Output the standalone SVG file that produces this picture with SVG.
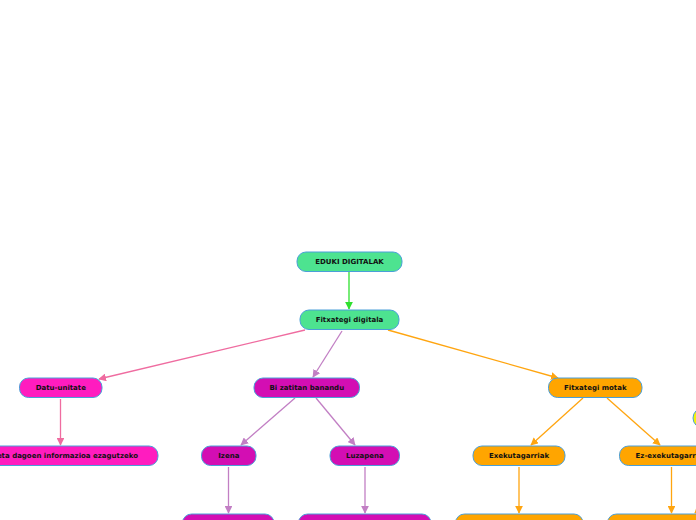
<svg xmlns="http://www.w3.org/2000/svg" width="696" height="520" viewBox="0 0 696 520">
<style>
.n{stroke:#4a9fd8;stroke-width:1}
.t{font-family:"DejaVu Sans",Verdana,sans-serif;font-weight:bold;font-size:7px;fill:#111;text-anchor:middle;dominant-baseline:central}
.g{fill:#4de390}
.p{fill:#ff1cbf}
.m{fill:#d30eb3}
.o{fill:#ffa500}
.y{fill:#f2f20a}
.c{fill:none;stroke-width:1.3}
</style>
<defs>
<marker id="ag" viewBox="0 0 10 10" refX="9" refY="5" markerWidth="6" markerHeight="6" orient="auto"><path d="M0,0L10,5L0,10z" fill="#2fe02f"/></marker>
<marker id="ap" viewBox="0 0 10 10" refX="9" refY="5" markerWidth="6" markerHeight="6" orient="auto"><path d="M0,0L10,5L0,10z" fill="#ef6ca0"/></marker>
<marker id="am" viewBox="0 0 10 10" refX="9" refY="5" markerWidth="6" markerHeight="6" orient="auto"><path d="M0,0L10,5L0,10z" fill="#c27fc4"/></marker>
<marker id="ao" viewBox="0 0 10 10" refX="9" refY="5" markerWidth="6" markerHeight="6" orient="auto"><path d="M0,0L10,5L0,10z" fill="#ffa510"/></marker>
</defs>
<g id="connectors">
<line class="c" x1="349" y1="272" x2="349" y2="309" stroke="#2fe02f" marker-end="url(#ag)"/>
<line class="c" x1="305" y1="330" x2="99" y2="379" stroke="#ef6ca0" marker-end="url(#ap)"/>
<line class="c" x1="342" y1="331" x2="313" y2="377" stroke="#c27fc4" marker-end="url(#am)"/>
<line class="c" x1="388" y1="330" x2="558" y2="378" stroke="#ffa510" marker-end="url(#ao)"/>
<line class="c" x1="60.5" y1="399" x2="60.5" y2="445" stroke="#ef6ca0" marker-end="url(#ap)"/>
<line class="c" x1="295" y1="398" x2="241" y2="445" stroke="#c27fc4" marker-end="url(#am)"/>
<line class="c" x1="316" y1="398" x2="355" y2="445" stroke="#c27fc4" marker-end="url(#am)"/>
<line class="c" x1="228.5" y1="467" x2="228.5" y2="513" stroke="#c27fc4" marker-end="url(#am)"/>
<line class="c" x1="365" y1="467" x2="365" y2="513" stroke="#c27fc4" marker-end="url(#am)"/>
<line class="c" x1="583" y1="398" x2="531" y2="445" stroke="#ffa510" marker-end="url(#ao)"/>
<line class="c" x1="607" y1="398" x2="660" y2="445" stroke="#ffa510" marker-end="url(#ao)"/>
<line class="c" x1="519" y1="467" x2="519" y2="513" stroke="#ffa510" marker-end="url(#ao)"/>
<line class="c" x1="671.5" y1="467" x2="671.5" y2="513" stroke="#ffa510" marker-end="url(#ao)"/>
<line class="c" x1="712" y1="495" x2="695" y2="513" stroke="#ffa510" marker-end="url(#ao)"/>
</g>
<g id="n1"><rect class="n g" x="297" y="252" width="105" height="19.5" rx="9"/><text class="t" x="349.5" y="262">EDUKI DIGITALAK</text></g>
<g id="n2"><rect class="n g" x="300" y="310" width="99" height="19.5" rx="9"/><text class="t" x="349.5" y="320">Fitxategi digitala</text></g>
<g id="n3"><rect class="n p" x="19.5" y="378" width="82.5" height="19.5" rx="9"/><text class="t" x="60.8" y="388">Datu-unitate</text></g>
<g id="n4"><rect class="n m" x="254" y="378" width="105.5" height="19.5" rx="9"/><text class="t" x="306.8" y="388">Bi zatitan banandu</text></g>
<g id="n5"><rect class="n o" x="548.5" y="378" width="93.5" height="19.5" rx="9"/><text class="t" x="595.3" y="388">Fitxategi motak</text></g>
<g id="n6"><rect class="n p" x="-40" y="446" width="198" height="19.5" rx="9"/><text class="t" x="138" y="456" style="text-anchor:end">eta dagoen informazioa ezagutzeko</text></g>
<g id="n7"><rect class="n m" x="201.5" y="446" width="54.5" height="19.5" rx="9"/><text class="t" x="228.8" y="456">Izena</text></g>
<g id="n8"><rect class="n m" x="330" y="446" width="69.5" height="19.5" rx="9"/><text class="t" x="364.8" y="456">Luzapena</text></g>
<g id="n9"><rect class="n o" x="473" y="446" width="92" height="19.5" rx="9"/><text class="t" x="519" y="456">Exekutagarriak</text></g>
<g id="n10"><rect class="n o" x="619.5" y="446" width="104" height="19.5" rx="9"/><text class="t" x="671.5" y="456">Ez-exekutagarriak</text></g>
<g id="n11"><rect class="n y" x="693" y="408" width="40" height="20" rx="10"/></g>
<g id="n12"><rect class="n m" x="182.5" y="514" width="91.5" height="20" rx="9"/></g>
<g id="n13"><rect class="n m" x="298.5" y="514" width="132.5" height="20" rx="9"/></g>
<g id="n14"><rect class="n o" x="455.5" y="514" width="127.5" height="20" rx="9"/></g>
<g id="n15"><rect class="n o" x="607.5" y="514" width="120" height="20" rx="9"/></g>
</svg>
